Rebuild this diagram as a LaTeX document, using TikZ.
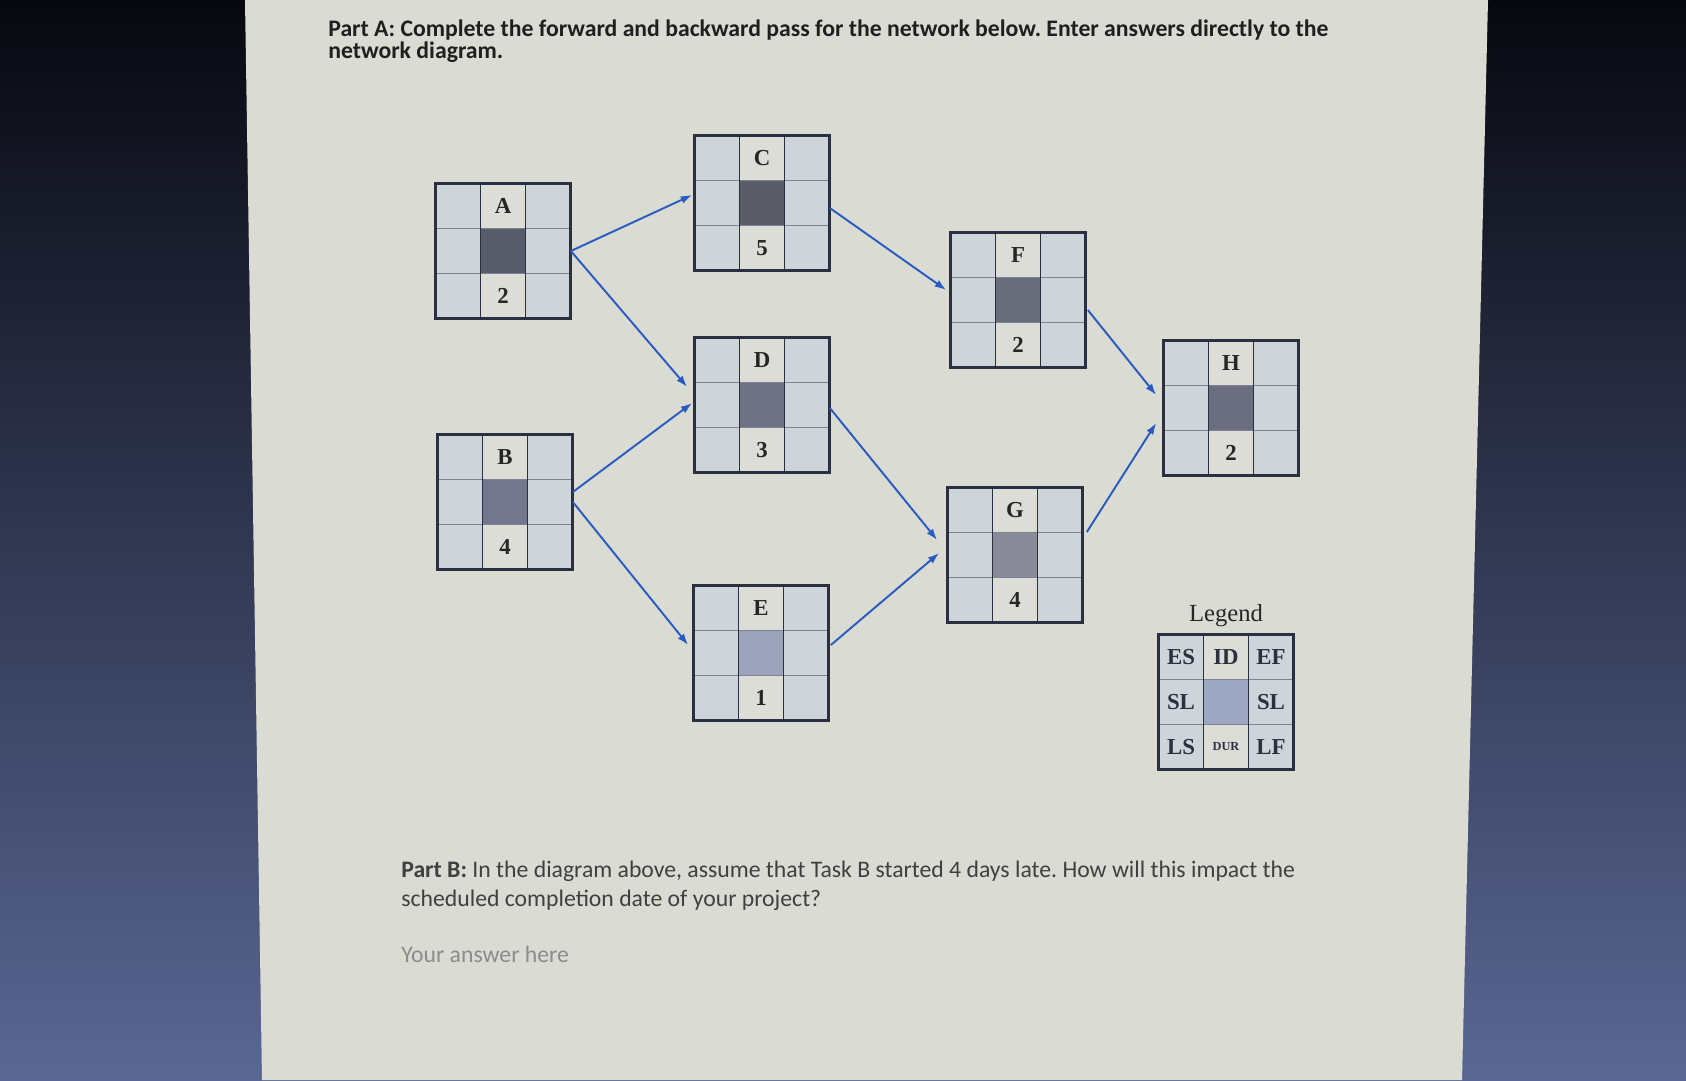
\documentclass[tikz,border=0pt]{standalone}
\usepackage{fontspec}
\setmainfont{Liberation Serif}
\newfontfamily\carlito{Carlito}
\usetikzlibrary{positioning}
\usetikzlibrary{calc}
\usetikzlibrary{arrows.meta}

\definecolor{pagegray}{HTML}{DADBD3}
\definecolor{sidecell}{HTML}{CDD4DA}
\definecolor{midcell}{HTML}{DCDDD6}
\definecolor{gridnavy}{HTML}{2A3040}
\definecolor{gridsoft}{HTML}{7C8394}
\definecolor{linkblue}{HTML}{2A5BC2}
\definecolor{screentop}{HTML}{07080F}
\definecolor{screenmid}{HTML}{1D2340}
\definecolor{screenbot}{HTML}{5A6794}
\definecolor{shadeA}{HTML}{585B69}
\definecolor{shadeB}{HTML}{72778C}
\definecolor{shadeC}{HTML}{5A5C67}
\definecolor{shadeD}{HTML}{6E7283}
\definecolor{shadeE}{HTML}{9BA4BB}
\definecolor{shadeF}{HTML}{6A6D7A}
\definecolor{shadeG}{HTML}{8A8B98}
\definecolor{shadeH}{HTML}{6A6E80}
\definecolor{shadeL}{HTML}{9EA8C4}

\begin{document}
\frenchspacing
\begin{tikzpicture}[x=0.02cm, y=-0.02cm,
            taskframe/.style={rectangle, minimum size=2.7cm, inner sep=0pt},
            tasklabel/.style={font=\fontsize{13}{15}\selectfont\bfseries, text=black!85, inner sep=0pt},
            legendlabel/.style={font=\fontsize{13}{15}\selectfont\bfseries, text=gridnavy, inner sep=0pt},
            linkarrow/.style={-{Latex[length=6.5pt,width=4.5pt]}, draw=linkblue, line width=1.1pt},
            parttext/.style={align=left, inner sep=0pt, anchor=north west},
            ]
            % screen and page
            \shade[top color=screentop, middle color=screenmid, bottom color=screenbot] (0,0) rectangle (1686,1080);
            \useasboundingbox (0,0) rectangle (1686,1080);
            \fill[pagegray] (245,0) -- (1488,0) -- (1462,1080) -- (262,1080) -- cycle;

            % task boxes
            \foreach \nm/\px/\py/\dur/\sh in {A/503/251/2/shadeA, B/505/502/4/shadeB, C/762/203/5/shadeC, D/762/405/3/shadeD, E/761/653/1/shadeE, F/1018/300/2/shadeF, G/1015/555/4/shadeG, H/1231/408/2/shadeH}{
                \node[taskframe] (\nm) at (\px,\py) {};
                \begin{scope}[shift={(\px,\py)}]
                    \fill[sidecell] (-67.5,-67.5) rectangle (67.5,67.5);
                    \fill[midcell] (-22.5,-67.5) rectangle (22.5,67.5);
                    \fill[\sh] (-22.5,-22.5) rectangle (22.5,22.5);
                    \draw[gridsoft, line width=0.8pt] (-67.5,-22.5) -- (67.5,-22.5) (-67.5,22.5) -- (67.5,22.5);
                    \draw[gridnavy, line width=0.8pt] (-22.5,-67.5) -- (-22.5,67.5) (22.5,-67.5) -- (22.5,67.5);
                    \draw[gridnavy, line width=1.2pt] (-67.5,-67.5) rectangle (67.5,67.5);
                \end{scope}
                \node[tasklabel] (\nm-id) at ($(\nm)+(0,-45)$) {\nm};
                \node[tasklabel] (\nm-dur) at ($(\nm)+(0,45)$) {\dur};
            }

            % legend
            \node[taskframe] (legend) at (1226,702) {};
            \begin{scope}[shift={(1226,702)}]
                \fill[sidecell] (-67.5,-67.5) rectangle (67.5,67.5);
                \fill[midcell] (-22.5,-67.5) rectangle (22.5,67.5);
                \fill[shadeL] (-22.5,-22.5) rectangle (22.5,22.5);
                \draw[gridsoft, line width=0.8pt] (-67.5,-22.5) -- (67.5,-22.5) (-67.5,22.5) -- (67.5,22.5);
                \draw[gridnavy, line width=0.8pt] (-22.5,-67.5) -- (-22.5,67.5) (22.5,-67.5) -- (22.5,67.5);
                \draw[gridnavy, line width=1.2pt] (-67.5,-67.5) rectangle (67.5,67.5);
            \end{scope}
            \node[font=\fontsize{14}{16}\selectfont, text=black!85, inner sep=0pt, above=0.15cm of legend] (legend-title) {Legend};
            \node[legendlabel] (legend-es) at ($(legend)+(-45,-45)$) {ES};
            \node[legendlabel] (legend-id) at ($(legend)+(0,-45)$) {ID};
            \node[legendlabel] (legend-ef) at ($(legend)+(45,-45)$) {EF};
            \node[legendlabel] (legend-sl) at ($(legend)+(-45,0)$) {SL};
            \node[legendlabel] (legend-sr) at ($(legend)+(45,0)$) {SL};
            \node[legendlabel] (legend-ls) at ($(legend)+(-45,45)$) {LS};
            \node[legendlabel, font=\fontsize{7}{8}\selectfont\bfseries] (legend-dur) at ($(legend)+(0,45)$) {DUR};
            \node[legendlabel] (legend-lf) at ($(legend)+(45,45)$) {LF};

            % links
            \draw[linkarrow] (A.east) -- ($(C.west)+(-2,-8)$);
            \draw[linkarrow] (A.east) -- ($(D.west)+(-7,-18)$);
            \draw[linkarrow] ($(B.east)+(0,-10)$) -- ($(D.west)+(-2,-2)$);
            \draw[linkarrow] (B.east) -- ($(E.west)+(-5,-8)$);
            \draw[linkarrow] ($(C.east)+(0,5)$) -- ($(F.west)+(-4,-10)$);
            \draw[linkarrow] ($(D.east)+(0,3)$) -- ($(G.west)+(-10,-15)$);
            \draw[linkarrow] ($(E.east)+(2,-8)$) -- ($(G.west)+(-8,-2)$);
            \draw[linkarrow] ($(F.east)+(2,10)$) -- ($(H.west)+(-7,-13)$);
            \draw[linkarrow] ($(G.east)+(4,-23)$) -- ($(H.west)+(-7,15)$);

            % questions
            \node[parttext, font=\carlito\bfseries\fontsize{13.5}{12.8}\selectfont, text=black!88] (part-a) at (328,19) {Part A: Complete the forward and backward pass for the network below. Enter answers directly to the\\network diagram.};
            \node[parttext, font=\carlito\fontsize{13.5}{16.5}\selectfont, text=black!75] (part-b) at (401,861) {\textbf{Part B:} In the diagram above, assume that Task B started 4 days late. How will this impact the\\scheduled completion date of your project?};
            \node[font=\carlito\fontsize{13.5}{15}\selectfont, text=black!45, inner sep=0pt, anchor=base west] (answer) at (401,962) {Your answer here};
        \end{tikzpicture}
\end{document}
